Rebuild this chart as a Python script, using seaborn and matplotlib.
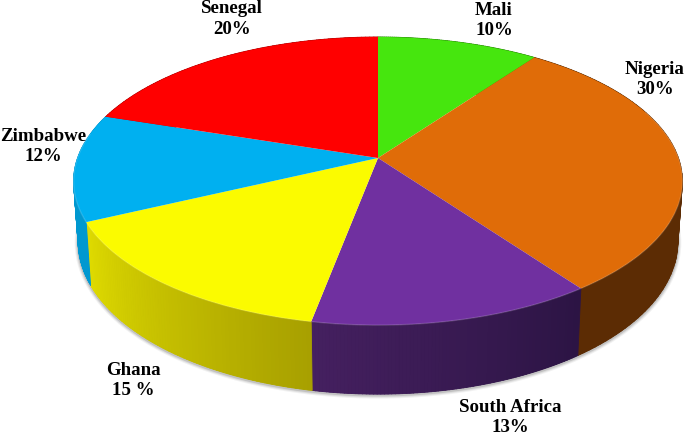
import numpy as np
import matplotlib
matplotlib.use("Agg")
import matplotlib.pyplot as plt
import seaborn as sns
from matplotlib.collections import PolyCollection
from matplotlib.colors import to_rgb
from matplotlib.transforms import Transform

countries = ["Mali", "Nigeria", "South Africa", "Ghana", "Zimbabwe", "Senegal"]
shares = [10, 30, 13, 15, 12, 20]
share_labels = ["10%", "30%", "13%", "15 %", "12%", "20%"]
top_colors = ["#46e60e", "#e06c08", "#7030a0", "#fbfb00", "#00b0f0", "#ff0000"]
# side wall shade at each end of the slice, in increasing theta (left to right on the front)
wall_start = ["#2b8c08", "#5c2c04", "#452060", "#e0dc00", "#0098d0", "#b00000"]
wall_end = ["#2b8c08", "#5c2c04", "#2c1444", "#a8a000", "#0098d0", "#b00000"]
label_xy = [(494, 20.5), (655, 79.5), (510, 417.5), (133, 380.5), (43, 146.5), (232, 19)]

sns.set_theme(style="white")
plt.rcParams["font.family"] = ["Liberation Serif", "DejaVu Serif"]


def tilt(xy):
    # flat unit circle -> perspective view in pixel coords
    xy = np.asarray(xy, dtype=float)
    w = 1 + 0.16 * xy[:, 1]
    return np.column_stack([378 + 300.5 * xy[:, 0] / w, 158 - 140.4 * xy[:, 1] / w])


class Tilt(Transform):
    input_dims = 2
    output_dims = 2

    def transform_non_affine(self, values):
        return tilt(values)


def wall_bottom(rim, v):
    x = 378 + (rim[:, 0] - 378) * 0.985
    return np.column_stack([x, rim[:, 1] + 59 - 10 * v])


fig = plt.figure(figsize=(6.85, 4.37), dpi=100)
ax = fig.add_axes([0, 0, 1, 1])
wedges, _ = ax.pie(shares, colors=top_colors, startangle=90, counterclock=False,
                   wedgeprops={"linewidth": 0})
ax.set_aspect("auto")
ax.set_xlim(0, 685)
ax.set_ylim(437, 0)
ax.set_axis_off()

tilted = Tilt() + ax.transData
for w in wedges:
    w.set_transform(tilted)
    w.set_zorder(5)

# side walls: a flat base polygon so no seams show, then gradient strips on top
bases, base_shades, quads, shades = [], [], [], []
for w, c0, c1 in zip(wedges, wall_start, wall_end):
    t = np.radians(np.linspace(w.theta1, w.theta2, 80))
    c0, c1 = np.array(to_rgb(c0)), np.array(to_rgb(c1))
    rim = tilt(np.column_stack([np.cos(t), np.sin(t)]))
    low = wall_bottom(rim, np.sin(t))
    bases.append(np.vstack([rim, low[::-1]]))
    base_shades.append((c0 + c1) / 2)
    for i in range(len(t) - 1):
        quads.append([rim[i], rim[i + 1], low[i + 1], low[i]])
        shades.append(c0 + (c1 - c0) * i / (len(t) - 2))

# soft shadow under the wall
t = np.radians(np.linspace(170, 380, 200))
rim = tilt(np.column_stack([np.cos(t), np.sin(t)]))
low = wall_bottom(rim, np.sin(t))
for lw, a in zip([5, 3.5, 2], [0.08, 0.12, 0.2]):
    ax.plot(low[:, 0], low[:, 1] + 1, color="#555555", lw=lw, alpha=a, zorder=2)

ax.add_collection(PolyCollection(bases, facecolors=base_shades, edgecolors="none", zorder=3))
ax.add_collection(PolyCollection(quads, facecolors=shades, edgecolors=shades,
                                 linewidths=0.6, zorder=3.5))

# light bevel along the front of the top face
ax.plot(rim[:, 0], rim[:, 1], color="white", lw=1, alpha=0.15, zorder=5.5)

for name, pct, (x, y) in zip(countries, share_labels, label_xy):
    ax.text(x, y, name + "\n" + pct, ha="center", va="center", fontsize=13.6,
            fontweight="bold", color="black", linespacing=1.3, zorder=6)

fig.savefig("out.png", dpi=100)
